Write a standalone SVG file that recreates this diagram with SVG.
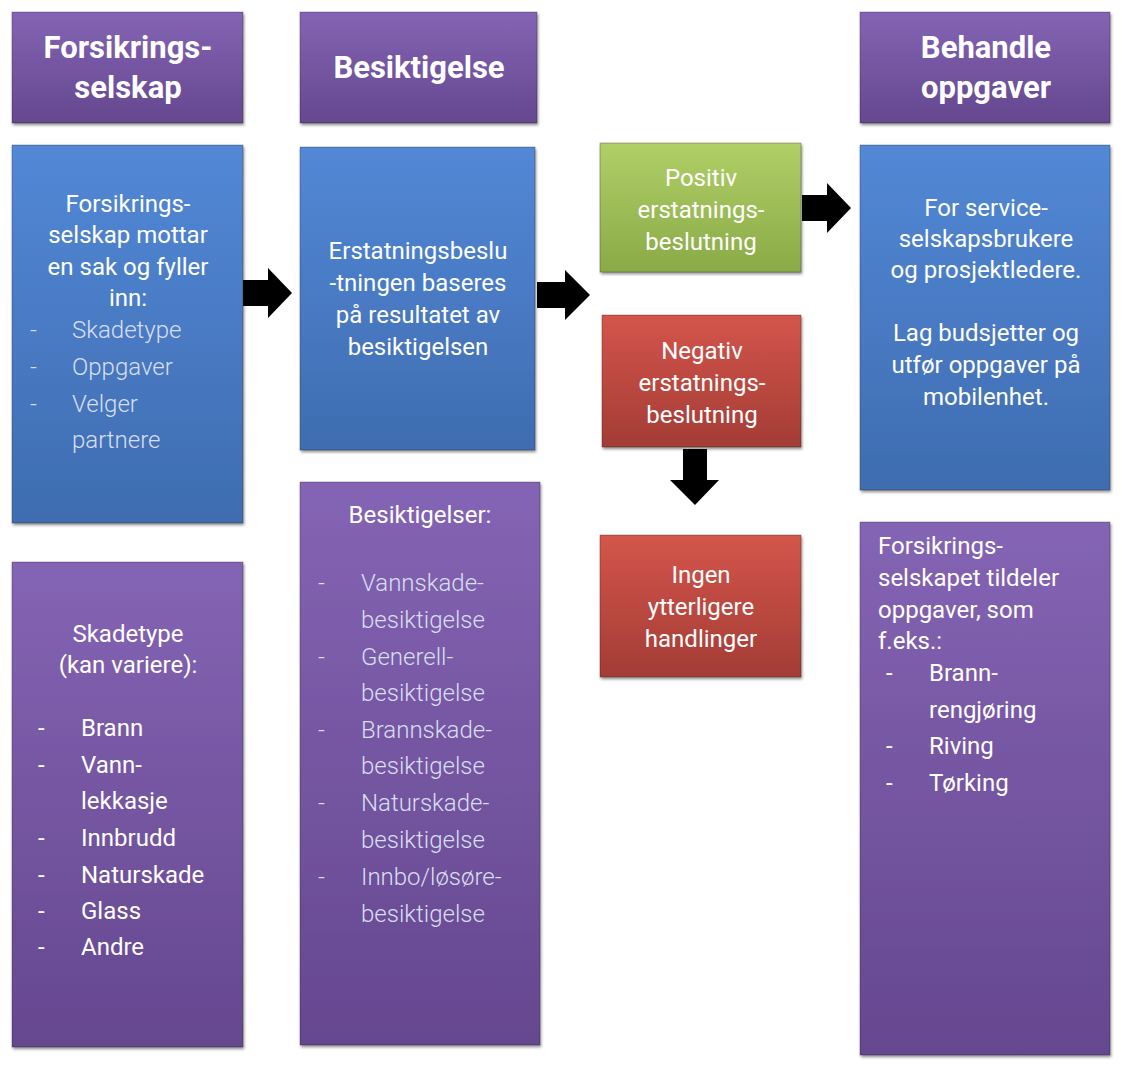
<svg xmlns="http://www.w3.org/2000/svg" width="1124" height="1072" viewBox="0 0 1124 1072">
<defs>
<linearGradient id="gp" x1="0" y1="0" x2="0" y2="1"><stop offset="0" stop-color="#8464b4"/><stop offset="1" stop-color="#65478f"/></linearGradient>
<linearGradient id="gb" x1="0" y1="0" x2="0" y2="1"><stop offset="0" stop-color="#5288d6"/><stop offset="1" stop-color="#3f6cb0"/></linearGradient>
<linearGradient id="gg" x1="0" y1="0" x2="0" y2="1"><stop offset="0" stop-color="#b0cf66"/><stop offset="1" stop-color="#8aaa48"/></linearGradient>
<linearGradient id="gr" x1="0" y1="0" x2="0" y2="1"><stop offset="0" stop-color="#d4554b"/><stop offset="1" stop-color="#a33c36"/></linearGradient>
<filter id="sh" x="-10%" y="-10%" width="125%" height="125%"><feDropShadow dx="1" dy="2" stdDeviation="1.5" flood-color="#000" flood-opacity="0.45"/></filter>
</defs>
<style>
.box{filter:url(#sh);stroke:rgba(0,0,0,0.25);stroke-width:1}
.p{fill:url(#gp)}.b{fill:url(#gb)}.g{fill:url(#gg)}.r{fill:url(#gr)}
text{font-family:Roboto,"Liberation Sans",sans-serif;fill:#fff;font-size:24px}
.h{font-weight:bold;font-size:31px;text-anchor:middle}
.c{text-anchor:middle}
.l{fill:#d8dff0;font-weight:300}
.arr{fill:#000}
</style>
<g id="h1"><rect class="box p" x="12" y="12" width="231" height="111"/><text class="h" x="128" y="58">Forsikrings-</text><text class="h" x="128" y="98">selskap</text></g>
<g id="h2"><rect class="box p" x="300" y="12" width="237" height="111"/><text class="h" x="419" y="78">Besiktigelse</text></g>
<g id="h3"><rect class="box p" x="860" y="12" width="250" height="111"/><text class="h" x="986" y="58">Behandle</text><text class="h" x="986" y="98">oppgaver</text></g>
<g id="b1"><rect class="box b" x="12" y="145" width="231" height="378"/>
<text class="c" x="128" y="212">Forsikrings-</text><text class="c" x="128" y="243">selskap mottar</text><text class="c" x="128" y="275">en sak og fyller</text><text class="c" x="128" y="306">inn:</text>
<text class="l" x="30" y="338">-</text><text class="l" x="72" y="338">Skadetype</text>
<text class="l" x="30" y="375">-</text><text class="l" x="72" y="375">Oppgaver</text>
<text class="l" x="30" y="412">-</text><text class="l" x="72" y="412">Velger</text>
<text class="l" x="72" y="448">partnere</text></g>
<g id="b2"><rect class="box b" x="300" y="147" width="235" height="303"/>
<text class="c" x="418" y="259">Erstatningsbeslu</text><text class="c" x="418" y="291">-tningen baseres</text><text class="c" x="418" y="323">på resultatet av</text><text class="c" x="418" y="355">besiktigelsen</text></g>
<g id="pos"><rect class="box g" x="600" y="143" width="201" height="129"/>
<text class="c" x="701" y="186">Positiv</text><text class="c" x="701" y="218">erstatnings-</text><text class="c" x="701" y="250">beslutning</text></g>
<g id="neg"><rect class="box r" x="602" y="315" width="199" height="132"/>
<text class="c" x="702" y="359">Negativ</text><text class="c" x="702" y="391">erstatnings-</text><text class="c" x="702" y="423">beslutning</text></g>
<g id="ingen"><rect class="box r" x="600" y="535" width="201" height="142"/>
<text class="c" x="701" y="583">Ingen</text><text class="c" x="701" y="615">ytterligere</text><text class="c" x="701" y="647">handlinger</text></g>
<g id="b3"><rect class="box b" x="860" y="145" width="250" height="345"/>
<text class="c" x="986" y="216">For service-</text><text class="c" x="986" y="247">selskapsbrukere</text><text class="c" x="986" y="278">og prosjektledere.</text>
<text class="c" x="986" y="341">Lag budsjetter og</text><text class="c" x="986" y="373">utfør oppgaver på</text><text class="c" x="986" y="405">mobilenhet.</text></g>
<g id="p1"><rect class="box p" x="12" y="562" width="231" height="485"/>
<text class="c" x="128" y="642">Skadetype</text><text class="c" x="128" y="673">(kan variere):</text>
<text x="38" y="736">-</text><text x="81" y="736">Brann</text>
<text x="38" y="773">-</text><text x="81" y="773">Vann-</text><text x="81" y="809">lekkasje</text>
<text x="38" y="846">-</text><text x="81" y="846">Innbrudd</text>
<text x="38" y="883">-</text><text x="81" y="883">Naturskade</text>
<text x="38" y="919">-</text><text x="81" y="919">Glass</text>
<text x="38" y="955">-</text><text x="81" y="955">Andre</text></g>
<g id="p2"><rect class="box p" x="300" y="482" width="240" height="563"/>
<text class="c" x="420" y="523">Besiktigelser:</text>
<text class="l" x="318" y="591">-</text><text class="l" x="361" y="591">Vannskade-</text><text class="l" x="361" y="628">besiktigelse</text>
<text class="l" x="318" y="665">-</text><text class="l" x="361" y="665">Generell-</text><text class="l" x="361" y="701">besiktigelse</text>
<text class="l" x="318" y="738">-</text><text class="l" x="361" y="738">Brannskade-</text><text class="l" x="361" y="774">besiktigelse</text>
<text class="l" x="318" y="811">-</text><text class="l" x="361" y="811">Naturskade-</text><text class="l" x="361" y="848">besiktigelse</text>
<text class="l" x="318" y="885">-</text><text class="l" x="361" y="885">Innbo/løsøre-</text><text class="l" x="361" y="922">besiktigelse</text></g>
<g id="p3"><rect class="box p" x="860" y="522" width="250" height="533"/>
<text x="878" y="554">Forsikrings-</text><text x="878" y="586">selskapet tildeler</text><text x="878" y="618">oppgaver, som</text><text x="878" y="649">f.eks.:</text>
<text x="886" y="681">-</text><text x="929" y="681">Brann-</text><text x="929" y="718">rengjøring</text>
<text x="886" y="754">-</text><text x="929" y="754">Riving</text>
<text x="886" y="791">-</text><text x="929" y="791">Tørking</text></g>
<g id="connectors">
<polygon class="arr" points="243,280 268,280 268,268 292,293 268,318 268,306 243,306"/>
<polygon class="arr" points="537,282 565,282 565,270 590,295 565,320 565,308 537,308"/>
<polygon class="arr" points="802,195 827,195 827,183 851,208 827,233 827,221 802,221"/>
<polygon class="arr" points="683,449 707,449 707,480 719,480 695,505 670,480 683,480"/>
</g>
</svg>
